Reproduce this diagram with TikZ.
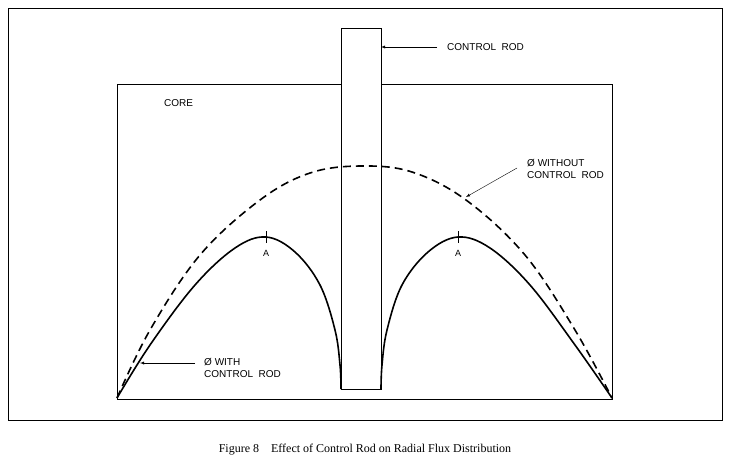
\documentclass[tikz,border=0pt]{standalone}
\usepackage{fontspec}
\setmainfont{Liberation Serif}
\newfontfamily\lab{Liberation Sans}
\begin{document}
\begin{tikzpicture}[x=1pt,y=-1pt,
  lbl/.style={font=\lab\fontsize{10}{12}\selectfont,anchor=west,inner sep=0pt,align=left},
  arr/.style={-latex,thin},
  curve/.style={line width=1.6pt}]
\useasboundingbox (0,0) rectangle (730,463);
\draw[thin] (8,8) rectangle (722,420);
\draw[line width=1pt] (117,84) rectangle (612,399);
\node[draw,line width=0.9pt,fill=white,minimum width=40pt,minimum height=361pt,inner sep=0pt] (rod) at (361,208.5) {};
% dashed
\draw[curve,dash pattern=on 8pt off 5pt] plot[smooth,tension=0.6] coordinates {(117,398) (150,330) (200,255) (260,200) (310,173) (361,166) (412,172) (466,200) (525,255) (575,330) (612,398)};
% solid lobes
\draw[curve] plot[smooth,tension=0.6] coordinates {(117,398) (150,345) (195,285) (235,248) (266,237) (295,252) (320,285) (335,330) (340,365) (341,389)};
\draw[curve] plot[smooth,tension=0.6] coordinates {(381,389) (382,365) (387,330) (402,285) (428,252) (458,237) (490,248) (530,285) (575,345) (612,398)};
\draw (266,231) -- (266,243); \node[lbl,anchor=center,font=\lab\fontsize{9}{11}\selectfont] (a1) at (266,253) {A};
\draw (458,231) -- (458,243); \node[lbl,anchor=center,font=\lab\fontsize{9}{11}\selectfont] (a2) at (458,253) {A};
\node[lbl] (cr) at (447,47) {CONTROL\ \ ROD};
\coordinate (crt) at (381,47);
\draw[arr] ([xshift=-10pt]cr.west) -- (crt);
\node[lbl] (core) at (164,103) {CORE};
\node[lbl] (wo) at (527,169) {Ø WITHOUT\\CONTROL\ \ ROD};
\coordinate (wot) at (466,197);
\draw[arr] (517,168) -- (wot);
\node[lbl] (w) at (204,368) {Ø WITH\\CONTROL\ \ ROD};
\coordinate (wt) at (140,363);
\draw[arr] (195,363) -- (wt);
\node[font=\fontsize{12}{14}\selectfont] (cap) at (365,450) {Figure 8\quad Effect of Control Rod on Radial Flux Distribution};
\end{tikzpicture}
\end{document}
